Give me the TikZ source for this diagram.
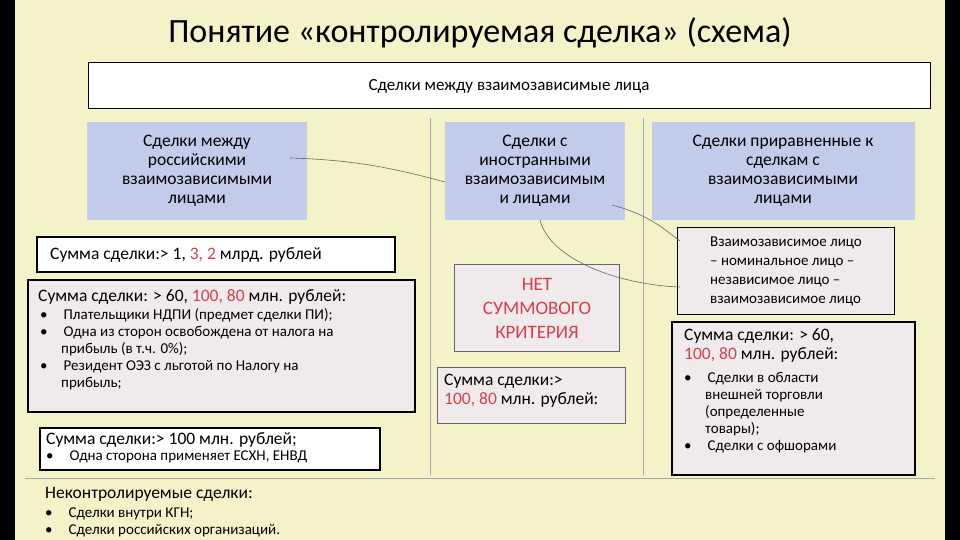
\documentclass[tikz,border=0pt]{standalone}
\usepackage{fontspec}
\setmainfont{Carlito}
\begin{document}
\begin{tikzpicture}[x=1pt,y=-1pt,
 blue/.style={fill=bl,draw=none,align=center,font=\fontsize{17.5}{19}\selectfont},
 bx/.style={draw=black,line width=1.3pt,fill=pk},
 t/.style={font=\fontsize{17.5}{19}\selectfont,anchor=west,inner sep=0},
 s/.style={font=\fontsize{15}{17}\selectfont,anchor=north west,inner sep=0,align=left},
 con/.style={draw=black!60,line width=0.6pt}]
\definecolor{bg}{HTML}{F4F2C8}\definecolor{rd}{HTML}{D2404A}
\definecolor{bl}{HTML}{C3CBEA}\definecolor{pk}{HTML}{F1EAEC}
\fill[black] (0,0) rectangle (960,540);
\fill[bg] (15,0) rectangle (945,540);
\node[font=\fontsize{34}{34}\selectfont] (title) at (480,33) {Понятие «контролируемая сделка» (схема)};
\node[draw,line width=1pt,fill=white,minimum width=842,minimum height=46,font=\fontsize{17}{17}\selectfont] (top) at (509,86) {Сделки между взаимозависимые лица};
\draw[black!35] (430,118)--(430,475) (643,118)--(643,475) (25,478)--(935,478);
\node[blue,minimum width=220,minimum height=98] (b1) at (197,171) {Сделки между\\российскими\\взаимозависимыми\\лицами};
\node[blue,minimum width=180,minimum height=98] (b2) at (535,171) {Сделки с\\иностранными\\взаимозависимым\\и лицами};
\node[blue,minimum width=263,minimum height=98] (b3) at (783,171) {Сделки приравненные к\\сделкам с\\взаимозависимыми\\лицами};
\draw[bx,fill=white] (37,237) rectangle (395,272);
\node[t] (s1) at (50,255) {Сумма сделки:> 1, \textcolor{rd}{3, 2} млрд. рублей};
\draw[bx] (28,280) rectangle (415,412);
\node[t] (s2) at (38,297) {Сумма сделки: > 60, \textcolor{rd}{100, 80} млн. рублей:};
\node[s] (l2) at (40,308) {•\hspace{16pt}Плательщики НДПИ (предмет сделки ПИ);\\
•\hspace{16pt}Одна из сторон освобождена от налога на\\\hspace{21pt}прибыль (в т.ч. 0\%);\\
•\hspace{16pt}Резидент ОЭЗ с льготой по Налогу на\\\hspace{21pt}прибыль;};
\draw[bx,fill=white] (40,428) rectangle (380,470);
\node[t] (s3) at (46,440) {Сумма сделки:> 100 млн. рублей;};
\node[s] (l3) at (46,451) {•\hspace{16pt}Одна сторона применяет ЕСХН, ЕНВД};
\node[draw=black!60,line width=1pt,fill=pk,minimum width=165,minimum height=87,text=rd,align=center,font=\fontsize{19}{24}\selectfont] (net) at (537,308) {НЕТ\\СУММОВОГО\\КРИТЕРИЯ};
\draw[draw=black!60,line width=1pt,fill=pk] (437,367) rectangle (625,423);
\node[t,align=left,anchor=north west] (s4) at (444,374) {Сумма сделки:>\\\textcolor{rd}{100, 80} млн. рублей:};
\node[bx,minimum width=217,minimum height=87,align=left,font=\fontsize{15}{19}\selectfont,inner sep=4pt] (vz) at (786,271) {Взаимозависимое лицо\\– номинальное лицо –\\независимое лицо –\\взаимозависимое лицо};
\draw[bx] (672,322) rectangle (915,475);
\node[t,align=left,anchor=north west] (s5) at (684,328) {Сумма сделки: > 60,\\\textcolor{rd}{100, 80} млн. рублей:};
\node[s] (l5) at (684,372) {•\hspace{16pt}Сделки в области\\\hspace{21pt}внешней торговли\\\hspace{21pt}(определенные\\\hspace{21pt}товары);\\•\hspace{16pt}Сделки с офшорами};
\node[t] (nk) at (45,494) {Неконтролируемые сделки:};
\node[s] (lk) at (45,508) {•\hspace{16pt}Сделки внутри КГН;\\•\hspace{16pt}Сделки российских организаций.};
\draw[con] (290,158) .. controls (360,160) and (400,170) .. (445,182);
\draw[con] (540,220) .. controls (550,260) and (620,285) .. (680,287);
\draw[con] (612,205) .. controls (650,215) and (665,230) .. (680,241);
\end{tikzpicture}
\end{document}
